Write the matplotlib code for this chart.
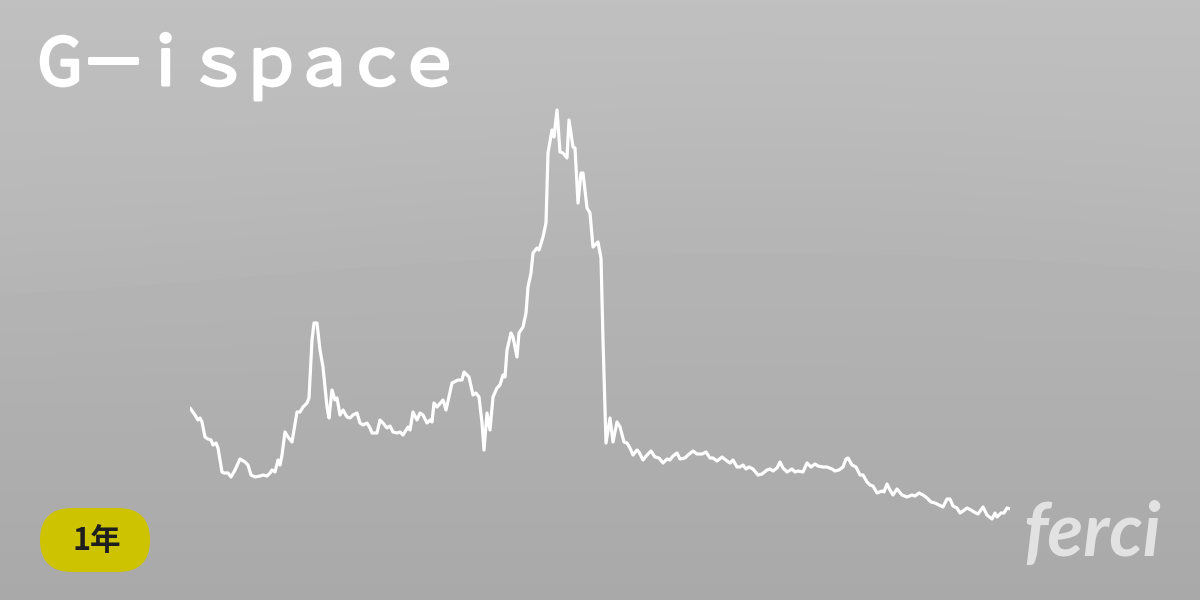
import numpy as np
import matplotlib
matplotlib.use('Agg')
import matplotlib.pyplot as plt
import matplotlib.patheffects as pe
from matplotlib.patches import FancyBboxPatch

# stock line (position along the year, price in yen)
t_pos = [0, 5, 8, 10, 12, 15, 18, 21, 23, 26, 28, 32, 34, 38, 41, 45, 50, 55, 58, 61,
         65, 70, 73, 77, 80, 82, 85, 88, 90, 92, 95, 98, 102, 107, 110, 113, 117, 119, 122, 124,
         127, 130, 133, 137, 139, 142, 145, 147, 150, 153, 157, 160, 163, 167, 170, 173, 177, 180, 182, 187,
         190, 193, 197, 200, 203, 207, 210, 213, 218, 220, 223, 227, 230, 233, 237, 240, 242, 244, 247, 253,
         256, 262, 268, 272, 274, 279, 283, 286, 289, 292, 294, 297, 300, 303, 307, 310, 313, 315, 317, 321,
         323, 327, 329, 333, 336, 338, 341, 343, 347, 349, 353, 356, 358, 362, 364, 367, 370, 373, 377, 379,
         383, 385, 388, 391, 393, 397, 400, 403, 408, 411, 413, 416, 420, 423, 427, 430, 434, 437, 440, 443,
         447, 449, 453, 457, 461, 465, 469, 473, 477, 480, 483, 487, 490, 495, 498, 503, 507, 512, 516, 520,
         523, 527, 532, 537, 540, 543, 547, 550, 553, 556, 559, 563, 568, 572, 577, 580, 583, 587, 590, 593,
         597, 602, 605, 608, 613, 617, 621, 625, 628, 633, 637, 642, 645, 649, 653, 656, 658, 662, 666, 670,
         673, 677, 680, 683, 687, 692, 694, 697, 700, 703, 707, 712, 717, 722, 725, 729, 733, 737, 741, 745,
         749, 753, 757, 760, 763, 767, 770, 773, 777, 781, 784, 788, 793, 797, 802, 805, 807, 811, 814, 817,
         820]
price = [768, 740, 720, 728, 712, 652, 644, 640, 620, 628, 608, 512, 508, 508, 492, 520, 564, 552, 540, 500,
         492, 496, 500, 496, 508, 520, 512, 560, 540, 580, 672, 652, 632, 752, 752, 772, 788, 808, 1040, 1108,
         1108, 1000, 932, 772, 728, 840, 800, 808, 740, 760, 732, 728, 740, 748, 708, 700, 708, 688, 668, 668,
         720, 708, 688, 696, 672, 668, 672, 660, 692, 680, 752, 720, 748, 740, 708, 720, 712, 788, 772, 800,
         760, 868, 880, 880, 912, 892, 820, 828, 812, 708, 600, 748, 680, 812, 848, 860, 900, 892, 1000, 1068,
         1052, 972, 1068, 1092, 1148, 1252, 1308, 1388, 1408, 1400, 1452, 1508, 1788, 1880, 1852, 1960, 1792, 1788, 1768, 1920,
         1812, 1808, 1588, 1708, 1708, 1568, 1548, 1412, 1432, 1368, 1040, 628, 728, 632, 712, 692, 632, 628, 608, 580,
         600, 592, 560, 580, 596, 572, 568, 548, 564, 560, 576, 588, 564, 568, 580, 596, 584, 584, 592, 568,
         568, 556, 572, 556, 548, 560, 532, 532, 540, 524, 532, 524, 500, 504, 520, 524, 516, 528, 552, 528,
         512, 524, 512, 516, 512, 548, 532, 544, 536, 532, 532, 524, 516, 520, 532, 564, 568, 540, 532, 500,
         500, 472, 460, 456, 428, 436, 432, 464, 440, 420, 444, 420, 412, 420, 416, 428, 420, 408, 392, 388,
         380, 372, 404, 404, 376, 368, 348, 356, 368, 360, 352, 344, 372, 340, 324, 348, 332, 348, 348, 368,
         364]

title_chars = ['G', '－', 'ｉ', 'ｓ', 'ｐ', 'ａ', 'ｃ', 'ｅ']
period_label = '1年'
brand = 'ferci'

W, H = 1200, 600
fig = plt.figure(figsize=(12, 6), dpi=100)

# background + decorations in pixel space
bg = fig.add_axes([0, 0, 1, 1])
bg.set_xlim(0, W)
bg.set_ylim(H, 0)
bg.axis('off')

xx, yy = np.meshgrid(np.arange(W), np.arange(H))
base = 0.745 - 0.075 * (yy / H)
edge = 230 - 70 * np.sin(np.pi * (xx - 300) / 900)
wave = 0.014 / (1 + np.exp((yy - edge) / 45))
shade = np.clip(base + wave - 0.008, 0, 1)
bg.imshow(shade, cmap='gray', vmin=0, vmax=1, extent=[0, W, H, 0], aspect='auto', zorder=0)

# title, letter-spaced
for i, ch in enumerate(title_chars):
    bg.text(60 + i * 52.8, 85, ch, color='white', fontsize=47, ha='center', va='baseline',
            family=['Noto Sans CJK JP', 'DejaVu Sans'], zorder=3,
            path_effects=[pe.withStroke(linewidth=2.2, foreground='white')])

# period pill
pill = FancyBboxPatch((40, 508), 110, 64, boxstyle='round,pad=0,rounding_size=32',
                      facecolor='#cdc300', edgecolor='none', zorder=3)
bg.add_patch(pill)
bg.text(97, 541, period_label, color='#1e1e1e', fontsize=22, fontweight='bold', ha='center', va='center',
        family=['Noto Sans CJK JP', 'DejaVu Sans'], zorder=4)

# logo
bg.text(1092, 556, brand, color='#e2e2e2', fontsize=53, fontweight='bold', style='italic',
        ha='center', va='baseline', family=['Lato', 'DejaVu Sans'], zorder=3)

# price line
ax = fig.add_axes([190 / W, 0, 820 / W, 1])
ax.patch.set_alpha(0)
ax.plot(t_pos, price, color='white', lw=2.3, solid_joinstyle='round', solid_capstyle='round')
ax.set_xlim(0, 820)
ax.set_ylim(0, 2400)
ax.axis('off')

fig.savefig('out.png', dpi=100)
